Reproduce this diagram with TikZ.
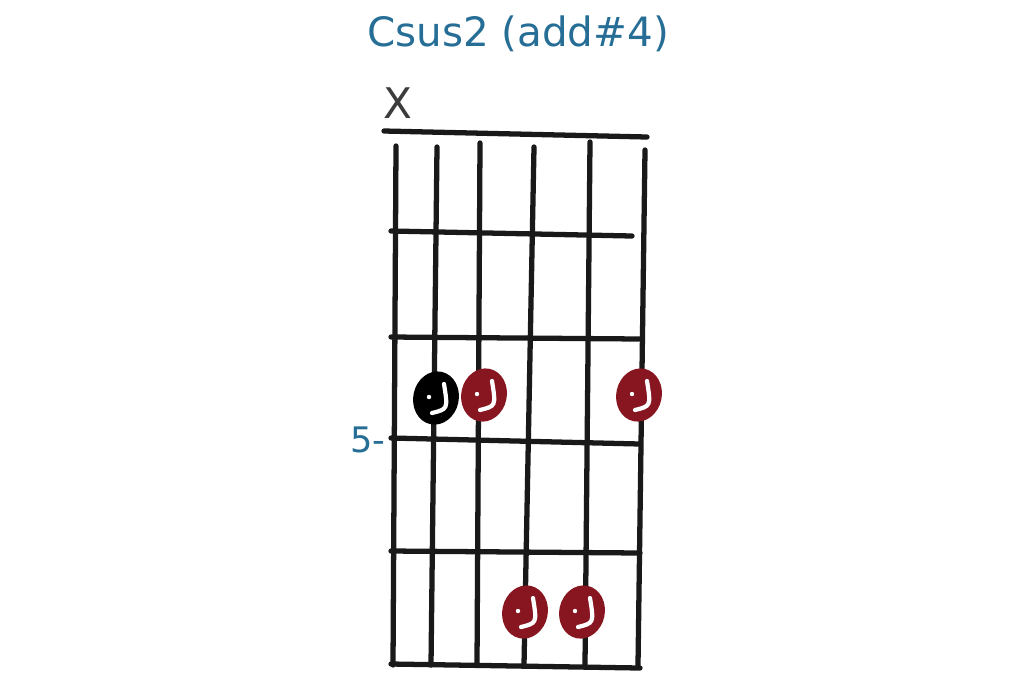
\documentclass[tikz,border=0pt]{standalone}
\usepackage{fontspec}
\setmainfont{DejaVu Sans}
\usepackage{xcolor}
\usetikzlibrary{shapes.geometric}
\definecolor{inkblue}{RGB}{38,110,150}
\definecolor{inkred}{RGB}{135,22,32}
\definecolor{inkgray}{RGB}{60,60,60}

\begin{document}
\begin{tikzpicture}[x=0.1mm, y=-0.1mm,
    wire/.style={line width=1.5pt, line cap=round, black!90},
    finger/.style={ellipse, draw=#1, fill=#1, line width=1pt, minimum width=4.2mm, minimum height=5mm, inner sep=0pt, rotate=-12},
    gleam/.style={white, line width=1.2pt, line cap=round}]
    \useasboundingbox (0,0) rectangle (1024,683);
    \fill[white] (0,0) rectangle (1024,683);

    % title and labels
    \node[text=inkblue, font=\fontsize{11.5}{14}\selectfont] (title) at (518,34) {Csus2 (add\#4)};
    \node[text=inkgray, font=\fontsize{12}{14}\selectfont] (mute) at (398,103) {X};
    \node[text=inkblue, font=\fontsize{10}{12}\selectfont] (pos) at (368,440) {5-};

    % nut
    \draw[wire] (384,131) -- (647,137);

    % strings
    \foreach \xt/\yt/\xb in {396/146/393, 437/147/431, 480/143/477, 534/147/524, 590/142/585, 645/150/638}
        \draw[wire] (\xt,\yt) -- (\xb,665);

    % frets
    \foreach \yl/\yr/\xr in {231/236/632, 337/339/640, 438/444/640, 551/553/640, 664/668/640}
        \draw[wire] (391,\yl) -- (\xr,\yr);

    % fingers
    \node[finger=black] (f1) at (436,398) {};
    \node[finger=inkred] (f2) at (484,395) {};
    \node[finger=inkred] (f3) at (639,395) {};
    \node[finger=inkred] (f4) at (525,612) {};
    \node[finger=inkred] (f5) at (582,612) {};

    \foreach \f in {f1,f2,f3,f4,f5} {
        \draw[gleam] ([xshift=-0.4mm,yshift=-1.5mm]\f.center) .. controls ([xshift=1.2mm,yshift=-1.1mm]\f.center) .. ([xshift=0.8mm,yshift=1.4mm]\f.center);
        \fill[white] ([xshift=-0.7mm,yshift=0.1mm]\f.center) circle (0.22mm);
    }
\end{tikzpicture}
\end{document}
